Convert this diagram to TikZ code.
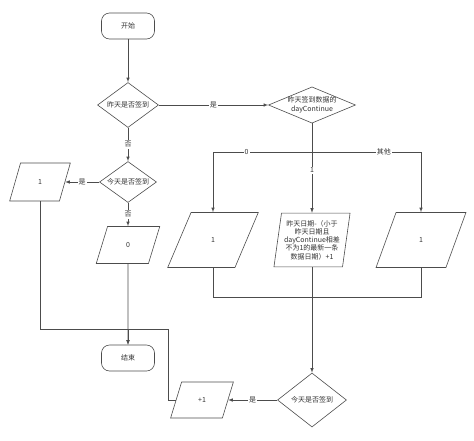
\documentclass[tikz,border=0pt]{standalone}
\usepackage{fontspec}
\setmainfont{Noto Sans CJK SC}
\usetikzlibrary{shapes.geometric}

\begin{document}
\begin{tikzpicture}
    [
    x=1pt,y=-1pt,color=black!70,line width=0.6pt,
    every node/.style={font=\fontsize{7}{8.3}\selectfont,text=black!80},
    terminal/.style={draw,rectangle,rounded corners=8pt,minimum width=53pt,minimum height=26pt},
    decision/.style={draw,diamond,inner sep=0pt},
    data/.style={draw,trapezium,trapezium left angle=#1,trapezium right angle={180-#1}},
    data/.default=73,
    oneline/.style={text height=5pt,text depth=1pt},
    tag/.style={fill=white,inner sep=1pt}
    ]
    \useasboundingbox (0,0) rectangle (474,440);
    \node (start) at (128,26) [terminal] {开始};
    \node (d1) at (128,105) [decision,aspect=1.35,minimum width=61pt,minimum height=45pt] {昨天是否签到};
    \node (d1b) at (128,182) [decision,aspect=1.4,minimum width=57pt,minimum height=41pt] {今天是否签到};
    \node (one) at (40,182) [data=74,oneline,inner xsep=17.5pt,inner ysep=16pt] {1};
    \node (zero) at (128,245) [data,oneline,inner xsep=18.5pt,inner ysep=15.5pt] {0};
    \node (end) at (128,358) [terminal] {结束};
    \node (d2) at (312,105) [decision,aspect=2.4,minimum width=84pt,minimum height=35pt,align=center] {昨天签到数据的\\dayContinue};
    \coordinate (split) at (312,152);
    \node (pA) at (213,240) [data=67,oneline,inner xsep=20pt,inner ysep=24.5pt] {1};
    \node (pB) at (312,240) [data=82,text width=57pt,inner xsep=2pt,inner ysep=7pt,align=center] {昨天日期-（小于\\昨天日期且\\dayContinue相差\\不为1的最新一条\\数据日期）+1};
    \node (pC) at (421,240) [data=70,oneline,inner xsep=23pt,inner ysep=24.5pt] {1};
    \coordinate (merge) at (312,297);
    \node (d3) at (312,400) [decision,aspect=1.3,minimum width=69pt,minimum height=54pt] {今天是否签到};
    \node (plus) at (202,400) [data,oneline,inner xsep=16.5pt,inner ysep=15pt] {+1};
    \coordinate (j2) at (168,329);
    \draw [-latex] (start) to (d1);
    \draw [-latex] (d1) to node [tag] {是} (d2);
    \draw [-latex] (d1) to node [tag] {否} (d1b);
    \draw [-latex] (d1b) to node [tag] {是} (one);
    \draw [-latex] (d1b) to node [tag] {否} (zero);
    \draw [-latex] (zero) to (end);
    \draw (d2) to (split);
    \draw [-latex] (split) -| node [tag,pos=0.33] {0} (pA);
    \draw [-latex] (split) -- node [tag,pos=0.3] {1} (pB);
    \draw [-latex] (split) -| node [tag,pos=0.33] {其他} (pC);
    \draw (pA) |- (merge);
    \draw (pC) |- (merge);
    \draw [-latex] (merge) to (d3);
    \draw (pB) to (merge);
    \draw [-latex] (d3) to node [tag] {是} (plus);
    \draw (one) |- (j2);
    \draw [-latex] (plus) -| (j2) -| (end);
  \end{tikzpicture}
\end{document}
